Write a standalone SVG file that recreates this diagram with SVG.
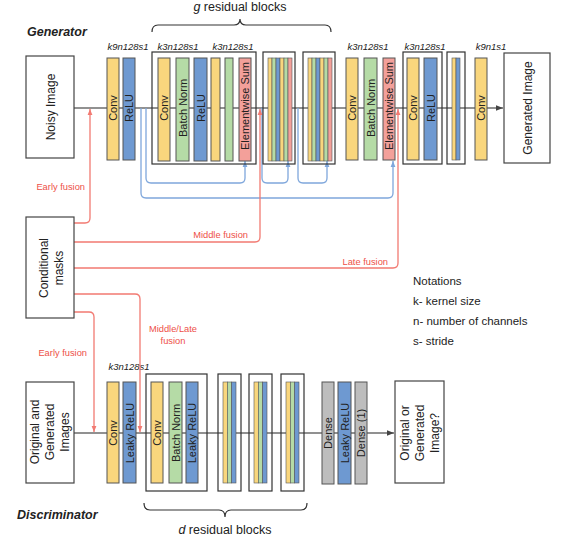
<svg xmlns="http://www.w3.org/2000/svg" width="566" height="537" viewBox="0 0 566 537">
<style>
text{font-family:"Liberation Sans",Arial,sans-serif;fill:#222}
.y{fill:#f9d67d;stroke:#555;stroke-width:1}
.g{fill:#b5dba6;stroke:#555;stroke-width:1}
.b{fill:#6e99d1;stroke:#555;stroke-width:1}
.p{fill:#f3a09a;stroke:#555;stroke-width:1}
.gr{fill:#bdbdbd;stroke:#555;stroke-width:1}
.s{stroke-width:0.6}
.F{fill:none;stroke:#333;stroke-width:1.2}
.box{fill:#fff;stroke:#444;stroke-width:1.2}
.lt{font-size:11px;text-anchor:middle}
.bt{font-size:12px;text-anchor:middle}
.k{font-size:9.5px;font-style:italic;text-anchor:middle}
.ttl{font-size:12.5px;font-weight:bold;font-style:italic}
.fu{font-size:9.3px;fill:#ee5048}
.main{fill:none;stroke:#6d6d6d;stroke-width:1.3}
.skip{fill:none;stroke:#7fa7dc;stroke-width:1.3}
.red{fill:none;stroke:#f27a72;stroke-width:1.3}
.br{fill:none;stroke:#333;stroke-width:1.2}
.nt{font-size:11.5px}
</style>
<defs>
<marker id="ag" viewBox="0 0 10 10" refX="10" refY="5" markerWidth="7" markerHeight="7" markerUnits="userSpaceOnUse" orient="auto"><path d="M0,1 L10,5 L0,9 z" fill="#444"/></marker>
<marker id="ab" viewBox="0 0 10 10" refX="10" refY="5" markerWidth="6" markerHeight="6" markerUnits="userSpaceOnUse" orient="auto"><path d="M0,1 L10,5 L0,9 z" fill="#7fa7dc"/></marker>
<marker id="ar" viewBox="0 0 10 10" refX="10" refY="5" markerWidth="6" markerHeight="6" markerUnits="userSpaceOnUse" orient="auto"><path d="M0,1 L10,5 L0,9 z" fill="#f27a72"/></marker>
</defs>
<rect width="566" height="537" fill="#fff"/>

<!-- titles and annotations -->
<text class="ttl" x="27" y="36">Generator</text>
<text class="ttl" x="17" y="519">Discriminator</text>
<text x="240" y="11" font-size="12.5" text-anchor="middle"><tspan font-style="italic">g</tspan> residual blocks</text>
<text x="225" y="534" font-size="12.5" text-anchor="middle"><tspan font-style="italic">d</tspan> residual blocks</text>
<text class="k" x="128" y="50">k9n128s1</text>
<text class="k" x="178" y="50">k3n128s1</text>
<text class="k" x="233" y="50">k3n128s1</text>
<text class="k" x="368" y="50">k3n128s1</text>
<text class="k" x="425" y="50">k3n128s1</text>
<text class="k" x="491" y="50">k9n1s1</text>
<text class="k" x="129" y="370">k3n128s1</text>
<g id="notations">
<text class="nt" x="413" y="285">Notations</text>
<text class="nt" x="413" y="305">k- kernel size</text>
<text class="nt" x="413" y="325">n- number of channels</text>
<text class="nt" x="413" y="345">s- stride</text>
</g>

<!-- connectors -->
<g id="connectors">
<path class="main" d="M74,108 H503" marker-end="url(#ag)"/>
<path class="main" d="M74,433 H394" marker-end="url(#ag)"/>
<path class="skip" d="M146,108 V178 Q146,183 151,183 H240 Q245,183 245,178 V161" marker-end="url(#ab)"/>
<path class="skip" d="M262,108 V178 Q262,183 267,183 H283 Q288,183 288,178 V161" marker-end="url(#ab)"/>
<path class="skip" d="M298,108 V178 Q298,183 303,183 H322 Q327,183 327,178 V161" marker-end="url(#ab)"/>
<path class="skip" d="M141,108 V193 Q141,198 146,198 H388 Q393,198 393,193 V161" marker-end="url(#ab)"/>
<path class="red" d="M74,223 H85 Q90,223 90,218 V109" marker-end="url(#ar)"/>
<path class="red" d="M74,242 H255 Q260,242 260,237 V109" marker-end="url(#ar)"/>
<path class="red" d="M74,268 H393 Q398,268 398,263 V109" marker-end="url(#ar)"/>
<path class="red" d="M74,294 H135 Q140,294 140,299 V432" marker-end="url(#ar)"/>
<path class="red" d="M74,312 H89 Q94,312 94,317 V432" marker-end="url(#ar)"/>
<path class="br" d="M152,32 Q152,25 158,25 H234 Q240,25 240,19 Q240,25 246,25 H325 Q331,25 331,32"/>
<path class="br" d="M144,503 Q144,510 150,510 H219 Q225,510 225,517 Q225,510 231,510 H301 Q307,510 307,503"/>
<text class="fu" x="85" y="190" text-anchor="end">Early fusion</text>
<text class="fu" x="248" y="238" text-anchor="end">Middle fusion</text>
<text class="fu" x="388" y="265" text-anchor="end">Late fusion</text>
<text class="fu" x="87" y="356" text-anchor="end">Early fusion</text>
<text class="fu" x="173" y="332" text-anchor="middle">Middle/Late</text>
<text class="fu" x="173" y="344" text-anchor="middle">fusion</text>
</g>

<!-- generator nodes -->
<g id="noisy-image">
<rect class="box" x="26" y="56" width="48" height="102"/>
<text class="bt" transform="translate(50,107) rotate(-90)" dy="4.5">Noisy Image</text>
</g>
<g id="conditional-masks">
<rect class="box" x="26" y="217" width="48" height="101"/>
<text class="bt" transform="translate(50,268) rotate(-90)"><tspan x="0" y="-2.5">Conditional</tspan><tspan x="0" y="12.5">masks</tspan></text>
</g>
<g id="g-conv1">
<rect class="y" x="107" y="58" width="12" height="102"/>
<text class="lt" transform="translate(113,108) rotate(-90)" dy="4">Conv</text>
</g>
<g id="g-relu1">
<rect class="b" x="123" y="58" width="12" height="102"/>
<text class="lt" transform="translate(129,108) rotate(-90)" dy="4">ReLU</text>
</g>
<g id="g-resblock1">
<rect class="F" x="152" y="52" width="104" height="112"/>
<rect class="y" x="158" y="58" width="12" height="103"/>
<text class="lt" transform="translate(164,108) rotate(-90)" dy="4">Conv</text>
<rect class="g" x="176" y="58" width="13" height="103"/>
<text class="lt" transform="translate(182.5,108) rotate(-90)" dy="4">Batch Norm</text>
<rect class="b" x="194" y="58" width="13" height="103"/>
<text class="lt" transform="translate(200.5,108) rotate(-90)" dy="4">ReLU</text>
<rect class="y" x="211" y="58" width="9" height="103"/>
<rect class="g" x="225" y="58" width="8" height="103"/>
<rect class="p" x="239" y="58" width="12" height="103"/>
<text class="lt" transform="translate(245,106) rotate(-90)" dy="4">Elementwise Sum</text>
</g>
<g id="g-resblock2">
<rect class="F" x="263" y="52" width="32" height="112"/>
<rect class="y s" x="268" y="58" width="4" height="103"/>
<rect class="g s" x="272" y="58" width="4" height="103"/>
<rect class="b s" x="276" y="58" width="4" height="103"/>
<rect class="y s" x="280" y="58" width="4" height="103"/>
<rect class="g s" x="284" y="58" width="4" height="103"/>
<rect class="p s" x="288" y="58" width="4" height="103"/>
</g>
<g id="g-resblock3">
<rect class="F" x="303" y="52" width="32" height="112"/>
<rect class="y s" x="308" y="58" width="4" height="103"/>
<rect class="g s" x="312" y="58" width="4" height="103"/>
<rect class="b s" x="316" y="58" width="4" height="103"/>
<rect class="y s" x="320" y="58" width="4" height="103"/>
<rect class="g s" x="324" y="58" width="4" height="103"/>
<rect class="p s" x="328" y="58" width="4" height="103"/>
</g>
<g id="g-conv2">
<rect class="y" x="346" y="58" width="12" height="102"/>
<text class="lt" transform="translate(352,108) rotate(-90)" dy="4">Conv</text>
</g>
<g id="g-bn2">
<rect class="g" x="364" y="58" width="13" height="102"/>
<text class="lt" transform="translate(370.5,108) rotate(-90)" dy="4">Batch Norm</text>
</g>
<g id="g-sum2">
<rect class="p" x="383" y="58" width="12" height="102"/>
<text class="lt" transform="translate(389,106) rotate(-90)" dy="4">Elementwise Sum</text>
</g>
<g id="g-upblock1">
<rect class="F" x="403" y="52" width="39" height="112"/>
<rect class="y" x="407" y="58" width="12" height="102"/>
<text class="lt" transform="translate(413,108) rotate(-90)" dy="4">Conv</text>
<rect class="b" x="424" y="58" width="13" height="102"/>
<text class="lt" transform="translate(430.5,108) rotate(-90)" dy="4">ReLU</text>
</g>
<g id="g-upblock2">
<rect class="F" x="447" y="52" width="18" height="112"/>
<rect class="y s" x="452" y="58" width="4" height="102"/>
<rect class="b s" x="456" y="58" width="4" height="102"/>
</g>
<g id="g-conv3">
<rect class="y" x="475" y="58" width="12" height="102"/>
<text class="lt" transform="translate(481,108) rotate(-90)" dy="4">Conv</text>
</g>
<g id="generated-image">
<rect class="box" x="504" y="53" width="46" height="110"/>
<text class="bt" transform="translate(527,108) rotate(-90)" dy="4.5">Generated Image</text>
</g>

<!-- discriminator nodes -->
<g id="input-images">
<rect class="box" x="26" y="382" width="48" height="101"/>
<text class="bt" transform="translate(50,432) rotate(-90)"><tspan x="0" y="-11">Original and</tspan><tspan x="0" y="4">Generated</tspan><tspan x="0" y="19">Images</tspan></text>
</g>
<g id="d-conv1">
<rect class="y" x="107" y="382" width="12" height="101"/>
<text class="lt" transform="translate(113,433) rotate(-90)" dy="4">Conv</text>
</g>
<g id="d-lrelu1">
<rect class="b" x="123" y="382" width="13" height="101"/>
<text class="lt" transform="translate(129.5,433) rotate(-90)" dy="4">Leaky ReLU</text>
</g>
<g id="d-resblock1">
<rect class="F" x="146" y="374" width="61" height="117"/>
<rect class="y" x="151" y="382" width="12" height="101"/>
<text class="lt" transform="translate(157,433) rotate(-90)" dy="4">Conv</text>
<rect class="g" x="169" y="382" width="13" height="101"/>
<text class="lt" transform="translate(175.5,433) rotate(-90)" dy="4">Batch Norm</text>
<rect class="b" x="186" y="382" width="12" height="101"/>
<text class="lt" transform="translate(192,433) rotate(-90)" dy="4">Leaky ReLU</text>
</g>
<g id="d-resblock2">
<rect class="F" x="218" y="374" width="23" height="117"/>
<rect class="y s" x="223" y="382" width="4.3" height="101"/>
<rect class="g s" x="227.3" y="382" width="4.3" height="101"/>
<rect class="b s" x="231.6" y="382" width="4.4" height="101"/>
</g>
<g id="d-resblock3">
<rect class="F" x="249" y="374" width="23" height="117"/>
<rect class="y s" x="254" y="382" width="4.3" height="101"/>
<rect class="g s" x="258.3" y="382" width="4.3" height="101"/>
<rect class="b s" x="262.6" y="382" width="4.4" height="101"/>
</g>
<g id="d-resblock4">
<rect class="F" x="281" y="374" width="23" height="117"/>
<rect class="y s" x="286" y="382" width="4.3" height="101"/>
<rect class="g s" x="290.3" y="382" width="4.3" height="101"/>
<rect class="b s" x="294.6" y="382" width="4.4" height="101"/>
</g>
<g id="d-dense1">
<rect class="gr" x="322" y="382" width="12" height="102"/>
<text class="lt" transform="translate(328,433) rotate(-90)" dy="4">Dense</text>
</g>
<g id="d-lrelu2">
<rect class="b" x="338" y="382" width="13" height="102"/>
<text class="lt" transform="translate(344.5,433) rotate(-90)" dy="4">Leaky ReLU</text>
</g>
<g id="d-dense2">
<rect class="gr" x="355" y="382" width="12" height="102"/>
<text class="lt" transform="translate(361,433) rotate(-90)" dy="4">Dense (1)</text>
</g>
<g id="output">
<rect class="box" x="395" y="381" width="49" height="102"/>
<text class="bt" transform="translate(419.5,433) rotate(-90)"><tspan x="0" y="-11">Original or</tspan><tspan x="0" y="4">Generated</tspan><tspan x="0" y="19">Image?</tspan></text>
</g>
</svg>
